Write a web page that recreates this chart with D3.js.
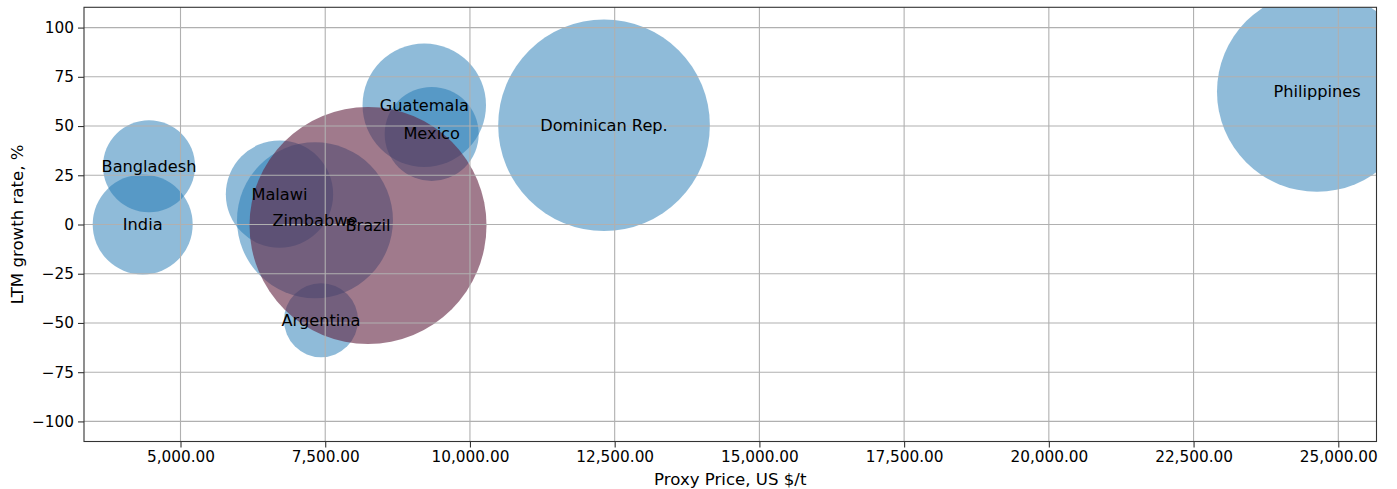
<!DOCTYPE html>
<html>
<head>
<meta charset="utf-8">
<script src="https://cdn.jsdelivr.net/npm/d3@7"></script>
<style>
  body { margin: 0; background: #fff; }
  text { font-family: "DejaVu Sans", sans-serif; fill: #000; }
</style>
</head>
<body>
<svg id="chart" width="1397" height="489"></svg>
<script>
// Market data: proxy price vs. last-twelve-month growth, bubble area = volume
const countries   = ["India", "Bangladesh", "Malawi", "Zimbabwe", "Argentina", "Guatemala", "Mexico", "Dominican Rep.", "Philippines", "Brazil"];
const proxyPrice  = [4347, 4456, 6710, 7323, 7427, 9211, 9339, 12316, 24632, 8239];
const growthRate  = [0, 29.6, 15.4, 2.2, -48.6, 60.6, 46, 50.4, 67.4, -0.5];
const volume      = [25, 21.2, 28.8, 60.8, 13.7, 38.1, 22.1, 112, 100, 140.4];
const highlighted = "Brazil";

const xTicks = [5000, 7500, 10000, 12500, 15000, 17500, 20000, 22500, 25000];
const yTicks = [-100, -75, -50, -25, 0, 25, 50, 75, 100];
const xDomain = [3333, 25660];
const yDomain = [-110.2, 110.3];

const W = 1397, H = 489;
const margin = { left: 84, right: 20.5, top: 7.3, bottom: 47.5 };
const iw = W - margin.left - margin.right;
const ih = H - margin.top - margin.bottom;

const svg = d3.select("#chart");
const g = svg.append("g").attr("transform", `translate(${margin.left},${margin.top})`);

const x = d3.scaleLinear().domain(xDomain).range([0, iw]);
const y = d3.scaleLinear().domain(yDomain).range([ih, 0]);
const r = d3.scaleSqrt().domain([0, 100]).range([0, 100]);

const data = countries.map((c, i) => ({
  name: c, price: proxyPrice[i], growth: growthRate[i], vol: volume[i]
}));

svg.append("defs").append("clipPath").attr("id", "plot-clip")
  .append("rect").attr("width", iw).attr("height", ih);

// bubbles
g.append("g").attr("clip-path", "url(#plot-clip)")
  .selectAll("circle").data(data).join("circle")
  .attr("cx", d => x(d.price))
  .attr("cy", d => y(d.growth))
  .attr("r", d => r(d.vol))
  .attr("fill", d => d.name === highlighted ? "#61213f" : "#1f77b4")
  .attr("fill-opacity", d => d.name === highlighted ? 0.6 : 0.5);

// grid drawn over the bubbles
const grid = g.append("g").attr("stroke", "#b0b0b0").attr("stroke-width", 1.1);
grid.selectAll("line.vx").data(xTicks).join("line")
  .attr("x1", d => x(d)).attr("x2", d => x(d))
  .attr("y1", 0).attr("y2", ih);
grid.selectAll("line.hy").data(yTicks).join("line")
  .attr("x1", 0).attr("x2", iw)
  .attr("y1", d => y(d)).attr("y2", d => y(d));

// axes
const xAxis = d3.axisBottom(x).tickValues(xTicks).tickFormat(d3.format(",.2f"))
  .tickSize(6).tickPadding(4);
const yAxis = d3.axisLeft(y).tickValues(yTicks).tickFormat(d3.format("d"))
  .tickSize(6).tickPadding(4);

const gx = g.append("g").attr("transform", `translate(0,${ih})`).call(xAxis);
const gy = g.append("g").call(yAxis);
[gx, gy].forEach(a => {
  a.select(".domain").remove();
  a.selectAll(".tick line").attr("stroke", "#333").attr("stroke-width", 1.1);
  a.selectAll(".tick text").style("font-family", "DejaVu Sans").style("font-size", "15.3px").attr("fill", "#000");
});

// frame
g.append("rect").attr("width", iw).attr("height", ih)
  .attr("fill", "none").attr("stroke", "#333").attr("stroke-width", 1.1);

// country labels
g.append("g").selectAll("text").data(data).join("text")
  .attr("x", d => x(d.price))
  .attr("y", d => y(d.growth))
  .attr("text-anchor", "middle")
  .attr("dominant-baseline", "central")
  .style("font-size", "16.2px")
  .text(d => d.name);

// axis titles
svg.append("text")
  .attr("x", margin.left + iw / 2).attr("y", 484.5)
  .attr("text-anchor", "middle").style("font-size", "16.6px")
  .text("Proxy Price, US $/t");
svg.append("text")
  .attr("transform", `translate(23,${margin.top + ih / 2}) rotate(-90)`)
  .attr("text-anchor", "middle").style("font-size", "16.6px")
  .text("LTM growth rate, %");
</script>
</body>
</html>
